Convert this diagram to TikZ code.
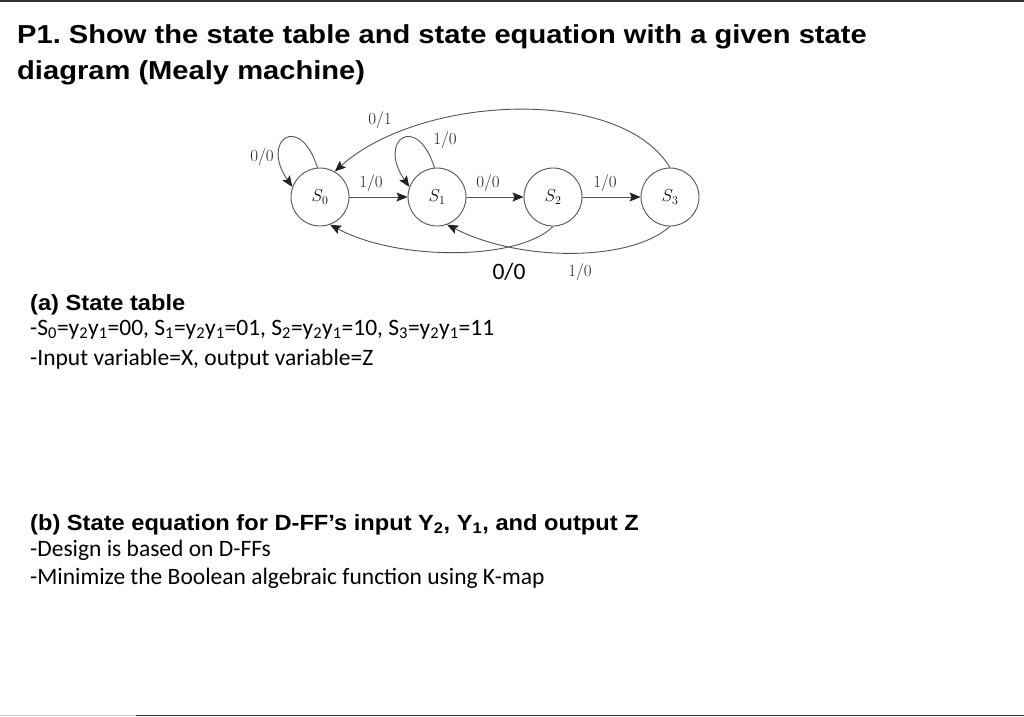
\documentclass[tikz,border=0pt]{standalone}
\usepackage{fontspec}
\usepackage{graphicx}
\newfontfamily\hfont{Liberation Sans}
\newfontfamily\cfont{Carlito}
\usetikzlibrary{arrows.meta,calc}
\definecolor{linec}{HTML}{555555}
\definecolor{tipc}{HTML}{222222}
\definecolor{barc}{HTML}{333333}
\definecolor{barg}{HTML}{C8C8C8}
\frenchspacing
\begin{document}
\begin{tikzpicture}[x=1pt,y=-1pt,
  state/.style={circle,draw=linec,line width=0.9pt,minimum size=58pt,inner sep=0pt,font=\fontsize{17}{20}\selectfont},
  tr/.style={draw=linec,line width=0.9pt,-{Stealth[length=11pt,width=9pt,inset=2pt,color=tipc]}},
  lab/.style={font=\fontsize{17}{20}\selectfont,inner sep=0pt,text=black!85},
  ttl/.style={anchor=base west,inner sep=0pt,font=\hfont\bfseries\fontsize{26}{30}\selectfont},
  hd/.style={anchor=base west,inner sep=0pt,font=\hfont\bfseries\fontsize{22}{26}\selectfont},
  bd/.style={anchor=base west,inner sep=0pt,font=\cfont\fontsize{23.5}{26}\selectfont}]
\path[use as bounding box,fill=white] (0,0) rectangle (1024,716);
\fill[barc] (0,0) rectangle (1024,1.5);
\fill[barg] (0,714.5) rectangle (136,716);
\fill[barc] (136,714.5) rectangle (1024,716);

% title
\node[ttl] (t1) at (17,43) {\scalebox{1.12}[1]{P1. Show the state table and state equation with a given state}};
\node[ttl] (t2) at (17,79) {\scalebox{1.12}[1]{diagram (Mealy machine)}};

% states
\node[state] (S0) at (320,197) {$S_0$};
\node[state] (S1) at (437,197) {$S_1$};
\node[state] (S2) at (553,197) {$S_2$};
\node[state] (S3) at (670,197) {$S_3$};

% transitions
\draw[tr] (S0) -- (S1);
\draw[tr] (S1) -- (S2);
\draw[tr] (S2) -- (S3);
\draw[tr] (S0.95) .. controls ($(S0)+(-20,-85)$) and ($(S0)+(-60,-57)$) .. (S0.160);
\draw[tr] (S1.95) .. controls ($(S1)+(-20,-85)$) and ($(S1)+(-60,-57)$) .. (S1.160);
\draw[tr] (S3.90) .. controls (620,85) and (420,95) .. (S0.60);
\draw[tr] (S2.-90) .. controls (520,260) and (400,262) .. (S0.-70);
\draw[tr] (S3.-90) .. controls (630,262) and (520,262) .. (S1.-70);

% labels
\node[lab] (l00a) at (262,157) {0/0};
\node[lab] (l10a) at (445,140) {1/0};
\node[lab] (l01) at (380,120) {0/1};
\node[lab] (l10b) at (371,183) {1/0};
\node[lab] (l00b) at (488,183) {0/0};
\node[lab] (l10c) at (605,183) {1/0};
\node[inner sep=0pt,font=\cfont\fontsize{23.5}{26}\selectfont] (l00c) at (509,272) {0/0};
\node[lab] (l10d) at (580,272) {1/0};

% text
\node[hd] (a) at (30,310) {\scalebox{1.075}[1]{(a) State table}};
\node[bd] (a1) at (30,335) {-S\textsubscript{0}=y\textsubscript{2}y\textsubscript{1}=00, S\textsubscript{1}=y\textsubscript{2}y\textsubscript{1}=01, S\textsubscript{2}=y\textsubscript{2}y\textsubscript{1}=10, S\textsubscript{3}=y\textsubscript{2}y\textsubscript{1}=11};
\node[bd] (a2) at (30,365) {-Input variable=X, output variable=Z};
\node[hd] (b) at (30,530) {\scalebox{1.075}[1]{(b) State equation for D-FF’s input Y\textsubscript{2}, Y\textsubscript{1}, and output Z}};
\node[bd] (b1) at (30,556) {-Design is based on D-FFs};
\node[bd] (b2) at (30,584) {-Minimize the Boolean algebraic function using K-map};
\end{tikzpicture}
\end{document}
